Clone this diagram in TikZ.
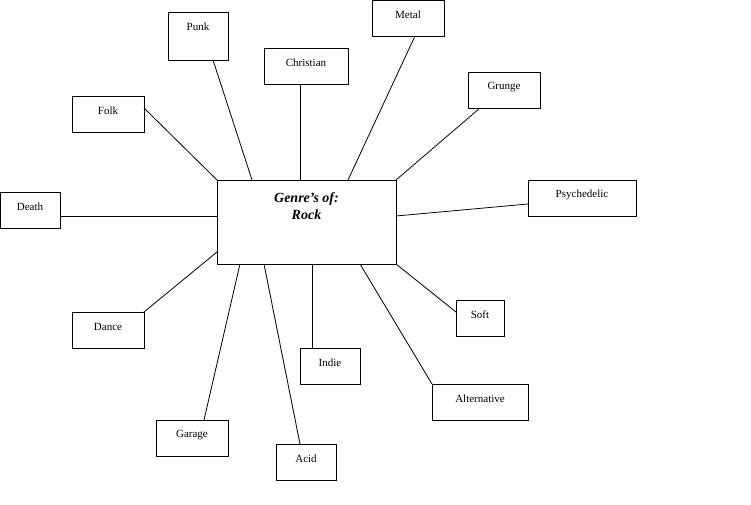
\documentclass[tikz,border=0pt]{standalone}
\usepackage{fontspec}
\setmainfont{Liberation Serif}
\begin{document}
\begin{tikzpicture}[x=1pt,y=-1pt,line width=0.8pt,
  bx/.style={draw,fill=white,inner sep=0pt,font=\fontsize{11}{13}\selectfont}]
\useasboundingbox[fill=white] (0,0) rectangle (751,505);
\newcommand\bx[6]{\node[bx,minimum width=#4-#2,minimum height=#5-#3] (#1) at ({(#2+#4)/2},{(#3+#5)/2}) {}; \node[font=\fontsize{11}{13}\selectfont] at ({(#2+#4)/2},{#3+15}) {#6};}
\node[bx,minimum width=179,minimum height=84] (c) at (306.5,222) {};
\node[font=\bfseries\itshape\fontsize{14}{17}\selectfont,align=center] at (306.5,206) {Genre’s of:\\Rock};
\bx{punk}{168}{12}{228}{60}{Punk}
\bx{chr}{264}{48}{348}{84}{Christian}
\bx{metal}{372}{0}{444}{36}{Metal}
\bx{gru}{468}{72}{540}{108}{Grunge}
\bx{folk}{72}{96}{144}{132}{Folk}
\bx{psy}{528}{180}{636}{216}{Psychedelic}
\bx{death}{0}{192}{60}{228}{Death}
\bx{soft}{456}{300}{504}{336}{Soft}
\bx{dance}{72}{312}{144}{348}{Dance}
\bx{indie}{300}{348}{360}{384}{Indie}
\bx{alt}{432}{384}{528}{420}{Alternative}
\bx{gar}{156}{420}{228}{456}{Garage}
\bx{acid}{276}{444}{336}{480}{Acid}
\foreach \n/\a/\b/\p/\q in {p1/213/60/252/180, p2/300/84/300/180, p3/415/36/348/180,
  p4/480/108/396/180, p5/144/108/217/180, p6/528/204/396/216, p7/60/216/217/216,
  p8/456/312/396/264, p9/144/312/217/252, p10/312/348/312/264, p11/432/384/360/264,
  p12/204/420/240/264, p13/300/444/264/264}
  {\coordinate (\n a) at (\a,\b); \coordinate (\n b) at (\p,\q); \draw (\n a) -- (\n b);}
\end{tikzpicture}
\end{document}
